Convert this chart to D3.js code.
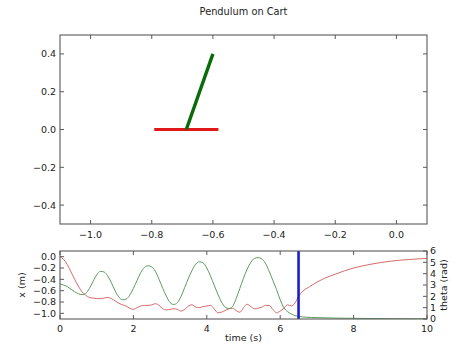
<!DOCTYPE html>
<html><head><meta charset="utf-8">
<script src="https://cdn.jsdelivr.net/npm/d3@7"></script>
<style>
body{margin:0;background:#fff;}
text{font-family:"DejaVu Sans",sans-serif;fill:#222;}
</style></head>
<body><svg id="c" width="474" height="355"></svg>
<script>
// ---- data ----
const titleText = "Pendulum on Cart";
const cartLineX = [-0.792, -0.582];
const cartLineY = [0, 0];
const pendLineX = [-0.687, -0.600];
const pendLineY = [0, 0.4];
const topXTicks = [-1.0, -0.8, -0.6, -0.4, -0.2, 0.0];
const topYTicks = [-0.4, -0.2, 0.0, 0.2, 0.4];

const timeX = [0,0.1,0.2,0.3,0.4,0.5,0.6,0.7,0.8,0.9,1.0,1.1,1.2,1.3,1.4,1.5,1.6,1.7,1.8,1.9,2.0,2.1,2.2,2.3,2.4,2.5,2.6,2.7,2.8,2.9,3.0,3.1,3.2,3.3,3.4,3.5,3.6,3.7,3.8,3.9,4.0,4.1,4.2,4.3,4.4,4.5,4.6,4.7,4.8,4.9,5.0,5.1,5.2,5.3,5.4,5.5,5.6,5.7,5.8,5.9,6.0,6.1,6.2,6.3,6.4,6.5,6.6,6.8,7.0,7.25,7.5,7.75,8.0,8.5,9.0,9.5,10.0];
const cartPos = [0.0,-0.05,-0.14,-0.27,-0.40,-0.52,-0.62,-0.68,-0.72,-0.73,-0.74,-0.74,-0.73,-0.72,-0.74,-0.78,-0.82,-0.85,-0.87,-0.91,-0.93,-0.90,-0.87,-0.86,-0.86,-0.85,-0.83,-0.86,-0.92,-0.94,-0.93,-0.92,-0.93,-0.96,-0.93,-0.87,-0.85,-0.89,-0.90,-0.88,-0.87,-0.86,-0.92,-0.99,-0.98,-0.95,-0.92,-0.91,-0.95,-0.98,-0.90,-0.84,-0.88,-0.92,-0.91,-0.89,-0.86,-0.86,-0.93,-0.99,-0.96,-0.91,-0.85,-0.87,-0.82,-0.70,-0.62,-0.53,-0.45,-0.37,-0.31,-0.25,-0.20,-0.13,-0.08,-0.05,-0.03];

const timeTheta = [0,0.2,0.4,0.6,0.7,0.8,0.9,1.0,1.1,1.2,1.3,1.4,1.5,1.6,1.7,1.8,1.9,2.0,2.1,2.2,2.3,2.4,2.5,2.6,2.7,2.8,2.9,3.0,3.1,3.2,3.3,3.4,3.5,3.6,3.7,3.8,3.9,4.0,4.1,4.2,4.3,4.4,4.5,4.6,4.7,4.8,4.9,5.0,5.1,5.2,5.3,5.4,5.5,5.6,5.7,5.8,5.9,6.0,6.1,6.2,6.3,6.4,6.5,6.7,7.0,7.5,8.0,9.0,10.0];
const theta = [3.1,2.85,2.4,2.15,2.25,2.7,3.3,3.9,4.2,4.15,3.8,3.2,2.5,1.95,1.7,1.75,2.1,2.7,3.4,4.1,4.55,4.7,4.6,4.2,3.5,2.7,2.0,1.45,1.28,1.45,2.0,2.8,3.6,4.3,4.85,5.05,4.95,4.5,3.8,3.0,2.2,1.5,1.05,0.92,1.1,1.8,2.7,3.6,4.4,5.0,5.35,5.42,5.3,4.9,4.2,3.4,2.6,1.7,1.0,0.65,0.45,0.3,0.23,0.16,0.12,0.08,0.06,0.03,0.01];

const currentTime = [6.5];
const botXTicks = [0,2,4,6,8,10];
const botYTicks = [0.0,-0.2,-0.4,-0.6,-0.8,-1.0];
const thetaTicks = [0,1,2,3,4,5,6];

// ---- drawing ----
const svg = d3.select("#c");
const fs = 9.5, tl = 4, frame = "#5a5a5a";
const fmt1 = d => d3.format(".1f")(d).replace("-", "\u2212");

svg.append("text").attr("x", 243.5).attr("y", 14.5).attr("text-anchor", "middle")
  .attr("font-size", 9.8).text(titleText);

// top axes
const T = {l:60, r:427, t:35, b:224};
const xT = d3.scaleLinear().domain([-1.1, 0.1]).range([T.l, T.r]);
const yT = d3.scaleLinear().domain([-0.5, 0.5]).range([T.b, T.t]);
const gT = svg.append("g");

function ticksInward(g, sc, vals, orient, pos) {
  vals.forEach(v => {
    const p = sc(v);
    if (orient === "bottom") g.append("line").attr("x1",p).attr("x2",p).attr("y1",pos).attr("y2",pos-tl);
    if (orient === "top") g.append("line").attr("x1",p).attr("x2",p).attr("y1",pos).attr("y2",pos+tl);
    if (orient === "left") g.append("line").attr("y1",p).attr("y2",p).attr("x1",pos).attr("x2",pos+tl);
    if (orient === "right") g.append("line").attr("y1",p).attr("y2",p).attr("x1",pos).attr("x2",pos-tl);
  });
  g.selectAll("line").attr("stroke", frame).attr("stroke-width", 1);
}

const lineT = d3.line().x(d => xT(d[0])).y(d => yT(d[1]));
gT.append("path").datum(d3.zip(cartLineX, cartLineY)).attr("d", lineT)
  .attr("stroke", "#e01818").attr("stroke-width", 3.2).attr("fill", "none");
gT.append("path").datum(d3.zip(pendLineX, pendLineY)).attr("d", lineT)
  .attr("stroke", "#0b6b0b").attr("stroke-width", 3.4).attr("fill", "none");

const tkT = gT.append("g");
ticksInward(tkT, xT, topXTicks, "bottom", T.b);
ticksInward(tkT, xT, topXTicks, "top", T.t);
ticksInward(tkT, yT, topYTicks, "left", T.l);
ticksInward(tkT, yT, topYTicks, "right", T.r);
gT.append("rect").attr("x", T.l).attr("y", T.t).attr("width", T.r-T.l).attr("height", T.b-T.t)
  .attr("fill", "none").attr("stroke", frame).attr("stroke-width", 1.1);
topXTicks.forEach(v => gT.append("text").attr("x", xT(v)).attr("y", T.b + 13.5)
  .attr("text-anchor", "middle").attr("font-size", fs).text(fmt1(v)));
topYTicks.forEach(v => gT.append("text").attr("x", T.l - 4).attr("y", yT(v) + 3.4)
  .attr("text-anchor", "end").attr("font-size", fs).text(fmt1(v)));

// bottom axes
const B = {l:60, r:427, t:251, b:319};
const xB = d3.scaleLinear().domain([0, 10]).range([B.l, B.r]);
const yB = d3.scaleLinear().domain([-1.1, 0.1]).range([B.b, B.t]);
const yTh = d3.scaleLinear().domain([0, 6]).range([B.b, B.t]);
const gB = svg.append("g");
svg.append("clipPath").attr("id", "clipB").append("rect")
  .attr("x", B.l).attr("y", B.t).attr("width", B.r-B.l).attr("height", B.b-B.t);
const plot = gB.append("g").attr("clip-path", "url(#clipB)");

plot.append("path").datum(d3.zip(timeX, cartPos))
  .attr("d", d3.line().curve(d3.curveMonotoneX).x(d => xB(d[0])).y(d => yB(d[1])))
  .attr("stroke", "#d86a6a").attr("stroke-width", 1).attr("fill", "none");
plot.append("path").datum(d3.zip(timeTheta, theta))
  .attr("d", d3.line().curve(d3.curveMonotoneX).x(d => xB(d[0])).y(d => yTh(d[1])))
  .attr("stroke", "#5c9c5c").attr("stroke-width", 1).attr("fill", "none");
plot.append("line").attr("x1", xB(currentTime[0])).attr("x2", xB(currentTime[0]))
  .attr("y1", B.t).attr("y2", B.b).attr("stroke", "#1c1cc8").attr("stroke-width", 2.6);

const tkB = gB.append("g");
ticksInward(tkB, xB, botXTicks, "bottom", B.b);
ticksInward(tkB, xB, botXTicks, "top", B.t);
ticksInward(tkB, yB, botYTicks, "left", B.l);
ticksInward(tkB, yTh, thetaTicks, "right", B.r);
gB.append("rect").attr("x", B.l).attr("y", B.t).attr("width", B.r-B.l).attr("height", B.b-B.t)
  .attr("fill", "none").attr("stroke", frame).attr("stroke-width", 1.1);
botXTicks.forEach(v => gB.append("text").attr("x", xB(v)).attr("y", B.b + 12.5)
  .attr("text-anchor", "middle").attr("font-size", fs).text(v));
botYTicks.forEach(v => gB.append("text").attr("x", B.l - 4).attr("y", yB(v) + 3.4)
  .attr("text-anchor", "end").attr("font-size", fs).text(fmt1(v)));
thetaTicks.forEach(v => gB.append("text").attr("x", B.r + 3).attr("y", yTh(v) + 3.2)
  .attr("text-anchor", "start").attr("font-size", fs).text(v));

svg.append("text").attr("x", 243.5).attr("y", 341).attr("text-anchor", "middle")
  .attr("font-size", fs).text("time (s)");
svg.append("text").attr("transform", "translate(25,285) rotate(-90)").attr("text-anchor", "middle")
  .attr("font-size", fs).text("x (m)");
svg.append("text").attr("transform", "translate(447,285) rotate(-90)").attr("text-anchor", "middle")
  .attr("font-size", fs).text("theta (rad)");
</script></body></html>
